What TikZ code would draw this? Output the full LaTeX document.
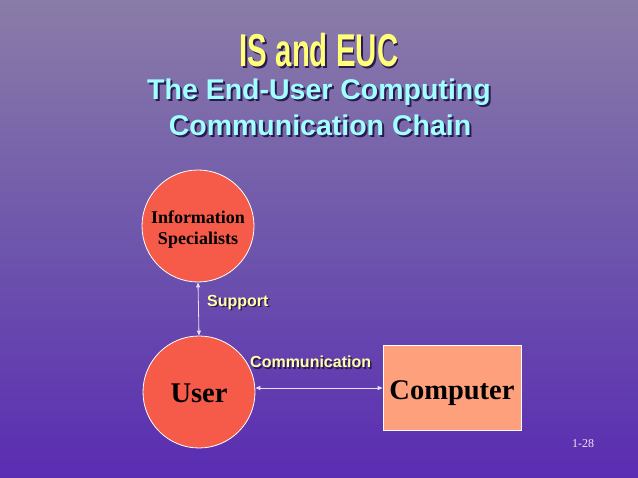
\documentclass[tikz,border=0pt]{standalone}
\usepackage{fontspec}
\setmainfont{Liberation Serif}
\setsansfont{Liberation Sans}
\usetikzlibrary{arrows.meta}
\definecolor{bgtop}{HTML}{8A7CA8}
\definecolor{bgmid}{HTML}{6E56AC}
\definecolor{bgbot}{HTML}{5A2CB2}
\definecolor{circfill}{HTML}{F65A48}
\definecolor{boxfill}{HTML}{FFA07C}
\definecolor{titleyel}{HTML}{FFFF78}
\definecolor{subcyan}{HTML}{A0FFFF}
\definecolor{lblyel}{HTML}{FFFFA8}
\definecolor{shadowc}{HTML}{2A1850}
\definecolor{linec}{HTML}{E8E0F8}
\newcommand{\shadowed}[2]{% #1 offset, #2 text
  \makebox[0pt][l]{\hspace{#1}\raisebox{-#1}{\color{shadowc}#2}}#2}
\newcommand{\lowered}[2]{\raisebox{-#1}[\height][\depth]{#2}}
\tikzset{
  circ/.style={circle, draw=white, line width=0.8pt, fill=circfill, minimum size=112pt, inner sep=0pt, align=center, text=black},
  compbox/.style={rectangle, draw=white, line width=0.8pt, fill=boxfill, minimum width=138pt, minimum height=85pt, inner sep=0pt, text=black},
  conn/.style={draw=linec, line width=0.8pt, {Triangle[length=5pt,width=4pt]}-{Triangle[length=5pt,width=4pt]}},
  lbl/.style={font=\sffamily\bfseries\fontsize{16}{18}\selectfont, text=lblyel, inner sep=0pt},
  subt/.style={text=subcyan, inner sep=0pt, font=\sffamily\bfseries\fontsize{28.5}{32}\selectfont},
}
\begin{document}
\begin{tikzpicture}[x=1pt,y=-1pt]
  % background
  \shade[top color=bgtop, bottom color=bgbot, middle color=bgmid] (0,0) rectangle (638,478);
  \useasboundingbox (0,0) rectangle (638,478);
  % title
  \node (title) [text=titleyel, inner sep=0pt, font=\sffamily\bfseries\fontsize{46}{48}\selectfont] at (319,51) {\scalebox{0.64}[1]{\shadowed{2.5pt}{IS and EUC}}};
  \node (sub1) [subt] at (319,93) {\shadowed{2pt}{The End-User Computing}};
  \node (sub2) [subt] at (320,126) {\shadowed{2pt}{Communication Chain}};
  % nodes
  \node (is) [circ, font=\rmfamily\bfseries\fontsize{18}{22}\selectfont] at (198,226) {\lowered{4pt}{Information}\\\lowered{3pt}{Specialists}};
  \node (user) [circ, font=\rmfamily\bfseries\fontsize{28.5}{30}\selectfont] at (199,392) {\lowered{1pt}{User}};
  \node (comp) [compbox, font=\rmfamily\bfseries\fontsize{28.5}{30}\selectfont] at (452,388) {\lowered{5pt}{Computer}};
  % connectors
  \draw[conn] (is.south) -- (user.north);
  \draw[conn] (user.east |- comp.west) -- (comp.west);
  % labels
  \node (sup) [lbl, anchor=west] at (207,303) {\shadowed{1.5pt}{Support}};
  \node (com) [lbl, anchor=west] at (250,363) {\shadowed{1.5pt}{Communication}};
  % slide number
  \node (num) [text=white!90!violet, font=\rmfamily\fontsize{12}{14}\selectfont, inner sep=0pt] at (583,444) {1-28};
\end{tikzpicture}
\end{document}
